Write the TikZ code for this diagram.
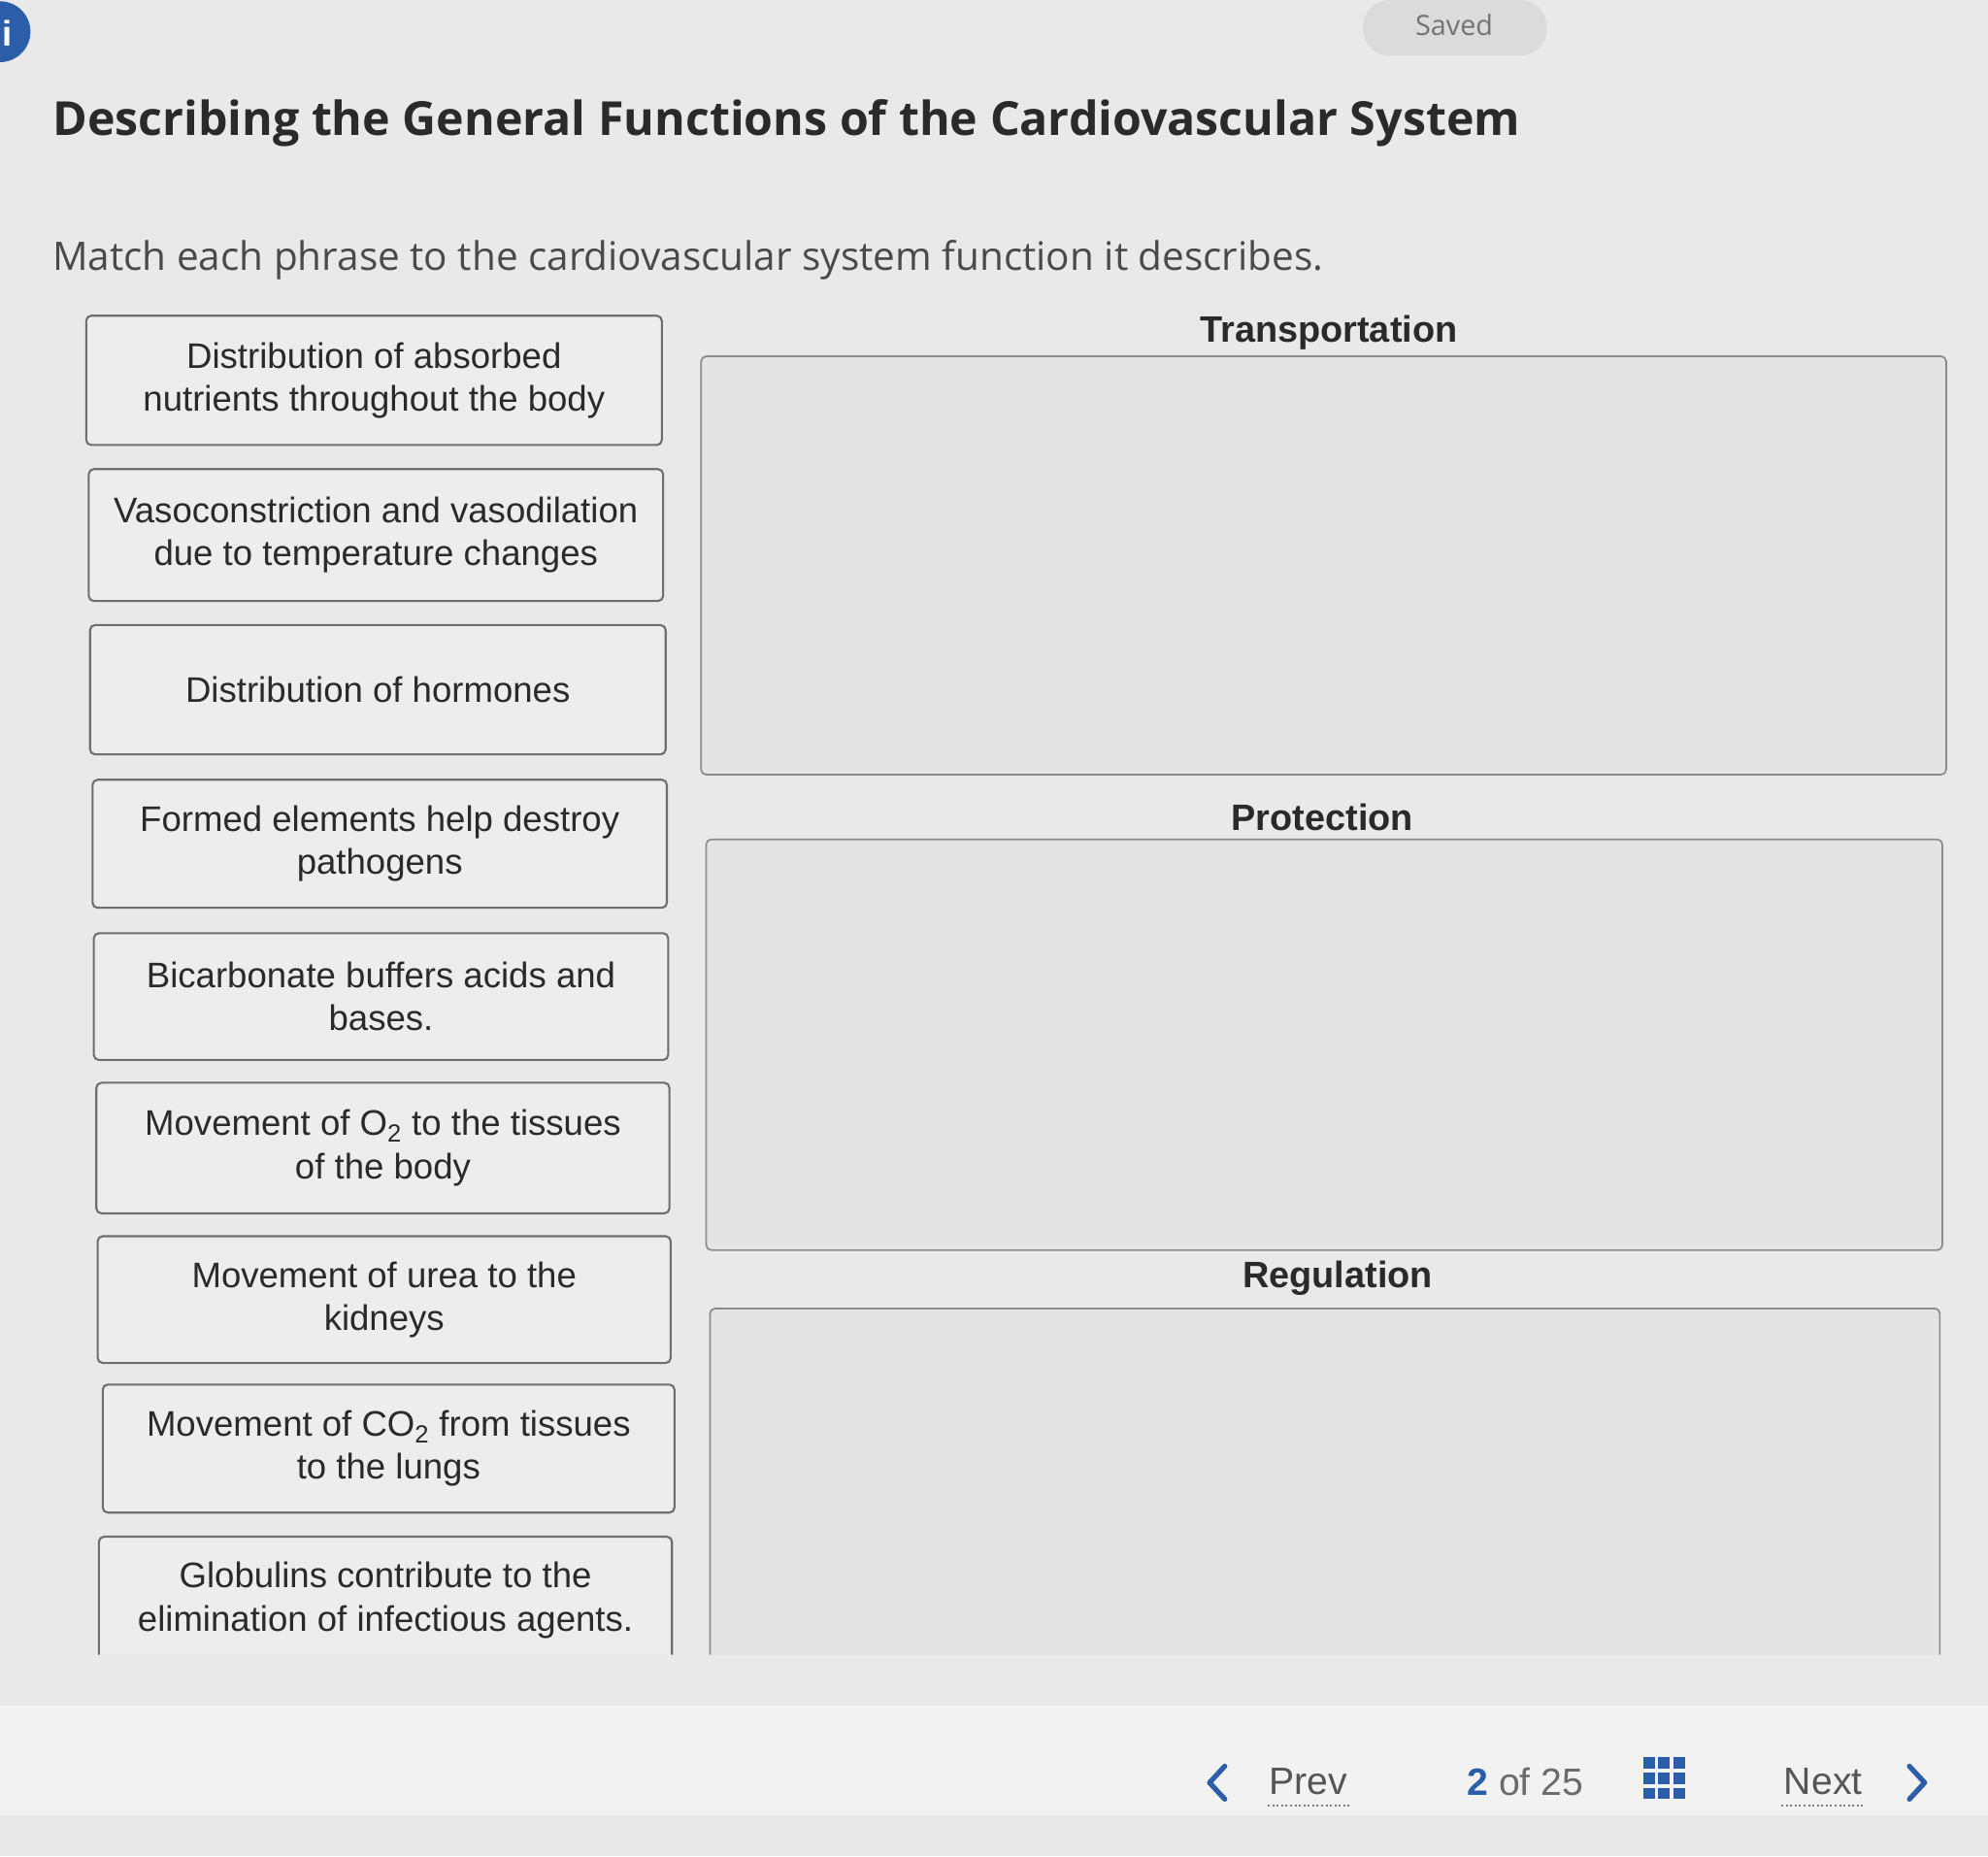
\documentclass[tikz,border=0pt]{standalone}
\usepackage{fontspec}
\setmainfont{Liberation Sans}
\newfontfamily\ttl{Open Sans}
\usetikzlibrary{calc}
\definecolor{bg}{HTML}{E9E9E9}
\definecolor{boxbg}{HTML}{EDEDED}
\definecolor{dropbg}{HTML}{E4E4E4}
\definecolor{edge}{HTML}{6E6E6E}
\definecolor{ink}{HTML}{2A2A2A}
\definecolor{navblue}{HTML}{2C5DA8}
\tikzset{
 card/.style={draw=edge,line width=1.6pt,rounded corners=4pt,fill=boxbg,align=center,font=\fontsize{28}{34}\selectfont,text=ink,inner sep=0pt},
 drop/.style={draw=edge!80,line width=1.3pt,rounded corners=4pt,fill=dropbg},
 head/.style={font=\fontsize{29}{34}\selectfont\bfseries,text=ink}
}
\begin{document}
\begin{tikzpicture}[x=1pt,y=-1pt]
\useasboundingbox (0,0) rectangle (1568,1464);
\fill[bg] (0,0) rectangle (1568,1464);
\fill[black!5] (0,1345) rectangle (1568,1464);
\fill[black!9] (0,1432) rectangle (1568,1464);
% info icon
\fill[navblue] (0,25) circle (24);
\node[text=white,font=\fontsize{28}{28}\selectfont\bfseries] (info) at (6,26) {i};
% Saved pill
\fill[black!14,rounded corners=21pt] (1075,0) rectangle (1220,44);
\node[text=black!55,font=\ttl\fontsize{22}{24}\selectfont] (saved) at (1147,20) {Saved};
\node[anchor=west,font=\ttl\fontsize{37}{40}\selectfont\bfseries,text=ink] (title) at (38,97) {Describing the General Functions of the Cardiovascular System};
\node[anchor=west,font=\ttl\fontsize{31}{34}\selectfont,text=ink!85] (sub) at (38,205) {Match each phrase to the cardiovascular system function it describes.};
% cards
\newcommand{\card}[6]{\node[card,minimum width=#3-#2,minimum height=#5-#4] (#1) at ({(#2+#3)/2},{(#4+#5)/2}) {#6};}
\card{c1}{68}{522}{249}{351}{Distribution of absorbed\\nutrients throughout the body}
\card{c2}{70}{523}{370}{474}{Vasoconstriction and vasodilation\\due to temperature changes}
\card{c3}{71}{525}{493}{595}{Distribution of hormones}
\card{c4}{73}{526}{615}{716}{Formed elements help destroy\\pathogens}
\card{c5}{74}{527}{736}{836}{Bicarbonate buffers acids and\\bases.}
\card{c6}{76}{528}{854}{957}{Movement of O\textsubscript{2} to the tissues\\of the body}
\card{c7}{77}{529}{975}{1075}{Movement of urea to the\\kidneys}
\card{c8}{81}{532}{1092}{1193}{Movement of CO\textsubscript{2} from tissues\\to the lungs}
% last card cut off
\fill[boxbg,rounded corners=4pt] (78,1305) -- (78,1212) -- (530,1212) -- (530,1305);
\draw[edge,line width=1.6pt,rounded corners=4pt] (78,1305) -- (78,1212) -- (530,1212) -- (530,1305);
\node[align=center,font=\fontsize{28}{34}\selectfont,text=ink] (c9) at (304,1262) {Globulins contribute to the\\elimination of infectious agents.};
% drop zones
\node[drop,minimum width=982,minimum height=330] (d1) at (1044,446) {};
\node[drop,minimum width=975,minimum height=324] (d2) at (1044.5,824) {};
\fill[dropbg,rounded corners=4pt] (560,1305) -- (560,1032) -- (1530,1032) -- (1530,1305);
\draw[edge!80,line width=1.3pt,rounded corners=4pt] (560,1305) -- (560,1032) -- (1530,1032) -- (1530,1305);
\node[head] (h1) at (1048,262) {Transportation};
\node[head] (h2) at (1043,645) {Protection};
\node[head] (h3) at (1055,1008) {Regulation};
% nav
\draw[navblue,line width=4pt,line cap=round,line join=round] (966,1393) -- (954,1406) -- (966,1419);
\node[font=\fontsize{30}{30}\selectfont,text=ink!80] (prev) at (1032,1405) {Prev};
\draw[ink!60,line width=1.5pt,dotted] (1000,1424) -- (1065,1424);
\node[font=\fontsize{30}{30}\selectfont,text=ink!70] (page) at (1203,1405) {\textcolor{navblue}{\bfseries 2} of 25};
\foreach \i in {0,1,2}\foreach \j in {0,1,2}{\fill[navblue] ({1296+\i*12},{1386+\j*12}) rectangle ++(9,9);}
\node[font=\fontsize{30}{30}\selectfont,text=ink!80] (next) at (1438,1405) {Next};
\draw[ink!60,line width=1.5pt,dotted] (1405,1424) -- (1471,1424);
\draw[navblue,line width=4pt,line cap=round,line join=round] (1506,1393) -- (1518,1406) -- (1506,1419);
\end{tikzpicture}
\end{document}
